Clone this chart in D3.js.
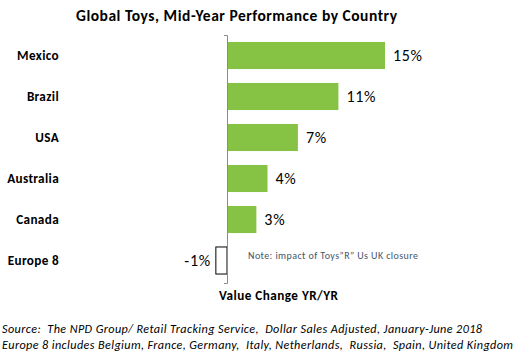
<!DOCTYPE html>
<html><head><meta charset="utf-8">
<script src="https://cdn.jsdelivr.net/npm/d3@7"></script>
<style>body{margin:0;background:#fff}svg{display:block}</style>
</head><body><svg id="c" width="524" height="359"></svg>
<script>
const categories = ["Mexico","Brazil","USA","Australia","Canada","Europe 8"];
const values = [15.6, 11.0, 7.0, 4.0, 2.9, -1.1];
const valueLabels = ["15%","11%","7%","4%","3%","-1%"];
const title = "Global Toys, Mid-Year Performance by Country";
const axisTitle = "Value Change YR/YR";
const note = "Note: impact of Toys\u201DR\u201D Us UK closure";
const sources = ["Source:  The NPD Group/ Retail Tracking Service,  Dollar Sales Adjusted, January-June 2018",
  "Europe 8 includes Belgium, France, Germany,  Italy, Netherlands,  Russia,  Spain, United Kingdom"];

const svg = d3.select("#c");
const font = "Carlito, Lato, 'Open Sans', sans-serif";
const x = d3.scaleLinear().domain([0, 15.6]).range([227, 385]);
const y = d3.scaleBand().domain(categories).range([35, 281]).paddingInner(0.34).paddingOuter(0.17);

svg.append("text").attr("x", 76).attr("y", 21)
  .attr("font-family", font).attr("font-weight","bold").attr("font-size", 15.5)
  .attr("textLength", 321).attr("lengthAdjust","spacing").attr("fill","#000").text(title);

const data = categories.map((c,i)=>({c, v: values[i], l: valueLabels[i]}));
svg.selectAll("rect.bar").data(data).join("rect").attr("class","bar")
  .attr("x", d=>x(Math.min(0,d.v))).attr("width", d=>Math.abs(x(d.v)-x(0)))
  .attr("y", d=>y(d.c)).attr("height", y.bandwidth())
  .attr("fill", d=>d.v>=0 ? "#86C244" : "#fff")
  .attr("stroke", d=>d.v>=0 ? "none" : "#000").attr("stroke-width", 1);

const ax = svg.append("g").attr("transform", `translate(${x(0)},0)`)
  .call(d3.axisLeft(y).tickSize(0).tickFormat(""));
ax.select(".domain").attr("stroke","#8c8c8c").attr("d", "M-3,35.5H0.5V283.5H-3");

svg.selectAll("text.cat").data(data).join("text").attr("class","cat")
  .attr("x", 59).attr("y", d=>y(d.c)+y.bandwidth()/2).attr("dy","0.35em")
  .attr("text-anchor","end").attr("font-family", font).attr("font-weight","bold")
  .attr("font-size", 13.2).attr("letter-spacing", 0.35).attr("fill","#000").text(d=>d.c);

svg.selectAll("text.val").data(data).join("text").attr("class","val")
  .attr("x", d=> d.v>=0 ? x(d.v)+8 : x(d.v)-5)
  .attr("y", d=>y(d.c)+y.bandwidth()/2).attr("dy","0.36em")
  .attr("text-anchor", d=> d.v>=0 ? "start" : "end")
  .attr("font-family", font).attr("font-size", 16).attr("letter-spacing", 0.7)
  .attr("fill","#000").text(d=>d.l);

svg.append("text").attr("x", 248).attr("y", 259).attr("font-family", font)
  .attr("font-size", 10).attr("textLength", 170).attr("lengthAdjust","spacing")
  .attr("fill","#44546A").text(note);

svg.append("text").attr("x", 219).attr("y", 300)
  .attr("font-family", font).attr("font-weight","bold").attr("font-size", 13.2)
  .attr("textLength", 119).attr("lengthAdjust","spacing").attr("fill","#000").text(axisTitle);

const srcW = [480, 511];
svg.selectAll("text.src").data(sources).join("text").attr("class","src")
  .attr("x", 2).attr("y", (d,i)=>333+i*15.5).attr("font-family", font)
  .attr("font-style","italic").attr("font-size", 12.2)
  .attr("textLength", (d,i)=>srcW[i]).attr("lengthAdjust","spacing")
  .attr("fill","#000").attr("xml:space","preserve").text(d=>d);
</script></body></html>
